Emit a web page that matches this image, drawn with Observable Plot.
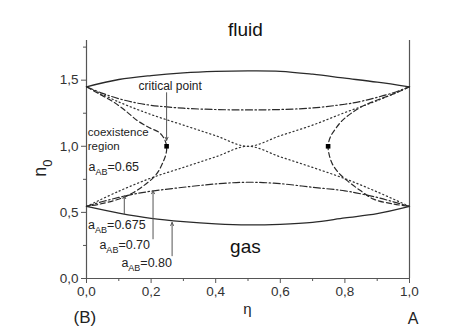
<!DOCTYPE html>
<html>
<head>
<meta charset="utf-8">
<script src="https://cdn.jsdelivr.net/npm/d3@7"></script>
<script src="https://cdn.jsdelivr.net/npm/@observablehq/plot@0.6"></script>
<style>
  html, body { margin: 0; padding: 0; background: #fff; }
  #chart svg { display: block; }
</style>
</head>
<body>
<div id="chart"></div>
<script>
// ---- data ----
const xMajorTicks = [0, 0.2, 0.4, 0.6, 0.8, 1.0];
const xMinorTicks = [0.1, 0.3, 0.5, 0.7, 0.9];
const yMajorTicks = [0, 0.5, 1.0, 1.5];
const yMinorTicks = [0.25, 0.75, 1.25, 1.75];

// a_AB = 0.80 (solid)
const eta080 = [0, 0.1, 0.2, 0.3, 0.4, 0.5, 0.6, 0.7, 0.8, 0.9, 1.0];
const n080Upper = [1.45, 1.505, 1.535, 1.555, 1.566, 1.57, 1.567, 1.545, 1.515, 1.485, 1.45];
const n080Lower = [0.545, 0.495, 0.455, 0.43, 0.413, 0.405, 0.41, 0.425, 0.458, 0.49, 0.545];

// a_AB = 0.70 (dash-dot)
const eta070 = [0, 0.05, 0.1, 0.15, 0.2, 0.3, 0.4, 0.5, 0.6, 0.7, 0.8, 0.85, 0.9, 0.95, 1.0];
const n070Upper = [1.45, 1.40, 1.36, 1.33, 1.31, 1.288, 1.278, 1.275, 1.278, 1.29, 1.318, 1.34, 1.37, 1.405, 1.45];
const n070Lower = [0.545, 0.582, 0.613, 0.64, 0.66, 0.69, 0.715, 0.728, 0.717, 0.69, 0.663, 0.64, 0.613, 0.58, 0.545];

// a_AB = 0.675 (dotted)
const eta675 = [0, 0.1, 0.2, 0.3, 0.4, 0.5, 0.6, 0.7, 0.8, 0.9, 1.0];
const n675Upper = [1.45, 1.335, 1.24, 1.16, 1.08, 1.0, 1.08, 1.16, 1.255, 1.345, 1.45];
const n675Lower = [0.545, 0.66, 0.76, 0.84, 0.92, 1.0, 0.92, 0.84, 0.755, 0.655, 0.545];

// a_AB = 0.65 (dashed) — two closed-nose branches
const eta065Left = [0, 0.04, 0.085, 0.125, 0.157, 0.195, 0.224, 0.24, 0.248, 0.246, 0.239, 0.224, 0.208, 0.177, 0.146, 0.115, 0.085, 0.04, 0];
const n065Left = [1.45, 1.395, 1.333, 1.26, 1.195, 1.14, 1.106, 1.06, 1.0, 0.94, 0.892, 0.816, 0.765, 0.702, 0.651, 0.614, 0.589, 0.562, 0.545];
const eta065Right = [1, 0.955, 0.91, 0.859, 0.817, 0.79, 0.771, 0.755, 0.748, 0.752, 0.761, 0.78, 0.807, 0.848, 0.889, 0.951, 1];
const n065Right = [1.45, 1.40, 1.359, 1.308, 1.245, 1.19, 1.132, 1.07, 1.0, 0.93, 0.867, 0.80, 0.74, 0.665, 0.60, 0.563, 0.545];

// critical points
const critEta = [0.248, 0.748];
const critN = [1.0, 1.0];

// annotations (data coordinates)
const bigLabels = ["fluid", "gas"];
const bigEta = [0.492, 0.492];
const bigN = [1.877, 0.241];

const noteText = ["coexistence", "region"];
const noteEta = [0.004, 0.004];
const noteN = [1.103, 1.0];

const critText = ["critical point"];
const critTextEta = [0.259];
const critTextN = [1.451];

const aLabels = ["a_{AB}=0.65", "a_{AB}=0.675", "a_{AB}=0.70", "a_{AB}=0.80"];
const aEta = [0.006, 0.005, 0.040, 0.108];
const aN = [0.846, 0.407, 0.253, 0.119];

// arrows: from (eta, nFrom) to (eta, nTo)
const arrowEta = [0.248, 0.117, 0.206, 0.265];
const arrowFrom = [1.405, 0.49, 0.30, 0.172];
const arrowTo = [1.045, 0.627, 0.664, 0.424];

// ---- build tables ----
const zip = (xs, ys, extra = {}) => xs.map((x, i) => ({x, y: ys[i], ...extra}));
const solid = [...zip(eta080, n080Upper, {s: "u"}), ...zip(eta080, n080Lower, {s: "l"})];
const dashdot = [...zip(eta070, n070Upper, {s: "u"}), ...zip(eta070, n070Lower, {s: "l"})];
const dotted = [...zip(eta675, n675Upper, {s: "u"}), ...zip(eta675, n675Lower, {s: "l"})];
const dashed = [...zip(eta065Left, n065Left, {s: "L"}), ...zip(eta065Right, n065Right, {s: "R"})];
const arrows = arrowEta.map((e, i) => ({x: e, y1: arrowFrom[i], y2: arrowTo[i]}));

const fmt = d => d.toFixed(1).replace(".", ",");
const ink = "#2a2a2a";
const axisInk = "#555";

const plot = Plot.plot({
  width: 474,
  height: 332,
  marginLeft: 86,
  marginRight: 65,
  marginTop: 40,
  marginBottom: 54,
  x: {domain: [0, 1]},
  y: {domain: [0, 1.8]},
  style: {fontFamily: "'Liberation Sans', Arial, sans-serif", background: "#fff", color: "#333"},
  marks: [
    // frame (left, right, bottom)
    Plot.ruleX([0, 1], {y1: 0, y2: 1.8, stroke: axisInk, strokeWidth: 1.2}),
    Plot.ruleY([0], {x1: 0, x2: 1, stroke: axisInk, strokeWidth: 1.2}),
    // axes
    Plot.axisX({ticks: xMajorTicks, tickFormat: fmt, tickSize: 5, tickPadding: 3, fontSize: 13.5, label: null, stroke: axisInk, color: "#333"}),
    Plot.axisX({ticks: xMinorTicks, tickFormat: () => "", tickSize: 3, label: null, stroke: axisInk}),
    Plot.axisY({ticks: yMajorTicks, tickFormat: fmt, tickSize: 5, tickPadding: 3, fontSize: 13.5, label: null, stroke: axisInk, color: "#333"}),
    Plot.axisY({ticks: yMinorTicks, tickFormat: () => "", tickSize: 3, label: null, stroke: axisInk}),
    // curves
    Plot.line(solid, {x: "x", y: "y", z: "s", stroke: ink, strokeWidth: 1.3, curve: "catmull-rom"}),
    Plot.line(dashdot, {x: "x", y: "y", z: "s", stroke: ink, strokeWidth: 1.2, strokeDasharray: "7,2.5,1.5,2.5", curve: "catmull-rom"}),
    Plot.line(dotted, {x: "x", y: "y", z: "s", stroke: "#333", strokeWidth: 1.2, strokeDasharray: "1.2,2.8", curve: "catmull-rom"}),
    Plot.line(dashed, {x: "x", y: "y", z: "s", stroke: ink, strokeWidth: 1.2, strokeDasharray: "5,3", curve: "catmull-rom"}),
    // critical points
    Plot.dot(critEta.map((e, i) => ({x: e, y: critN[i]})), {x: "x", y: "y", symbol: "square", r: 2.6, fill: "#000", stroke: null}),
    // arrows
    Plot.arrow(arrows, {x1: "x", x2: "x", y1: "y1", y2: "y2", stroke: "#555", strokeWidth: 1, headLength: 5, headAngle: 50}),
    // text annotations
    Plot.text(bigLabels, {x: (d, i) => bigEta[i], y: (d, i) => bigN[i], text: d => d, fontSize: 19, fill: "#111", textAnchor: "middle"}),
    Plot.text(critText, {x: (d, i) => critTextEta[i], y: (d, i) => critTextN[i], text: d => d, fontSize: 12, fill: "#222", textAnchor: "middle"}),
    Plot.text(noteText, {x: (d, i) => noteEta[i], y: (d, i) => noteN[i], text: d => d, fontSize: 11.5, fill: "#222", textAnchor: "start"}),
    Plot.text(aLabels, {x: (d, i) => aEta[i], y: (d, i) => aN[i], text: d => d, fontSize: 12.5, fill: "#222", textAnchor: "start"}),
    // axis titles and panel letters
    Plot.text(["η"], {x: 0.498, y: -0.229, text: d => d, fontSize: 15, fill: "#222"}),
    Plot.text(["n_{0}"], {x: -0.142, y: 0.835, text: d => d, fontSize: 18, fill: "#222", rotate: -90}),
    Plot.text(["(B)"], {x: -0.005, y: -0.293, text: d => d, fontSize: 17, fill: "#222"}),
    Plot.text(["A"], {x: 1.011, y: -0.304, text: d => d, fontSize: 16, fill: "#222"})
  ]
});

document.getElementById("chart").appendChild(plot);

// turn "_{...}" into real subscripts
d3.select(plot).selectAll("text").each(function () {
  const t = this.textContent;
  if (!t.includes("_{")) return;
  const fs = parseFloat(getComputedStyle(this).fontSize) || 12;
  const shift = fs * 0.32;
  const parts = t.split(/(_\{[^}]*\})/).filter(p => p.length);
  const el = d3.select(this);
  el.text(null);
  let down = false;
  parts.forEach(p => {
    if (p.startsWith("_{")) {
      el.append("tspan").attr("font-size", fs * 0.72).attr("dy", shift).text(p.slice(2, -1));
      down = true;
    } else {
      const ts = el.append("tspan").text(p);
      if (down) { ts.attr("dy", -shift); down = false; }
    }
  });
});
</script>
</body>
</html>
